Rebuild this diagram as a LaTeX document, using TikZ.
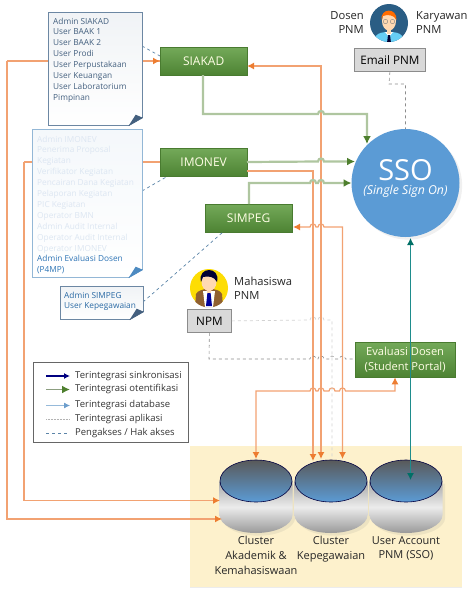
\documentclass[tikz,border=0pt]{standalone}
\usepackage{fontspec}
\setmainfont{Open Sans}
\usetikzlibrary{positioning, arrows.meta, shadows}

\definecolor{orangeline}{HTML}{F2A272}
\definecolor{orangetip}{HTML}{ED7D31}
\definecolor{greenline}{HTML}{AFC6A0}
\definecolor{greentip}{HTML}{4E7F2E}
\definecolor{greenbox}{HTML}{5B9A3C}
\definecolor{notedash}{HTML}{5B84A8}
\definecolor{greydash}{HTML}{8C8C8C}
\definecolor{tealline}{HTML}{1E8C8C}
\definecolor{tealtip}{HTML}{006F66}
\definecolor{ssoblue}{HTML}{5B9BD5}
\definecolor{panelfill}{HTML}{FDF1CC}
\definecolor{notetxt}{HTML}{44607F}
\definecolor{noteedge}{HTML}{6C87A3}
\definecolor{noteedgeb}{HTML}{93B7D6}
\definecolor{paletxt}{HTML}{DCE6F2}
\definecolor{bluetxt}{HTML}{2E75B6}
\definecolor{dosenblue}{HTML}{2A5D84}

\tikzset{
  appbox/.style={draw=greenbox!80!black, line width=0.3pt, top color=greenbox!85!white, bottom color=greenbox!85!black, text=white!90!yellow, font=\fontsize{12}{14}\selectfont, minimum height=28, inner sep=0pt, drop shadow={opacity=0.15, shadow xshift=0.6pt, shadow yshift=-0.8pt}},
  greybox/.style={draw=gray!90, line width=0.8pt, fill=gray!30, font=\fontsize{11.7}{14}\selectfont, inner sep=0pt},
  notebox/.style={draw=#1, line width=0.7pt, anchor=north west, inner sep=0pt, top color=#1!10, bottom color=white},
  notetext/.style={anchor=north west, inner sep=0pt, align=left, font=\fontsize{8.3}{10.9}\selectfont, text=notetxt},
  label/.style={font=\fontsize{11.2}{14.5}\selectfont, inner sep=0pt, text=black!85},
  legendtext/.style={font=\fontsize{9.5}{11}\selectfont, anchor=west, inner sep=0pt, text=black!80},
  orangearrow/.style={draw=orangeline, line width=1.4pt},
  orangethin/.style={draw=orangeline, line width=1.2pt},
  greenarrow/.style={draw=greenline, line width=2.2pt, -{Latex[length=8pt,width=8pt,color=greentip]}},
  notelink/.style={draw=notedash, line width=0.7pt, dashed},
  greydashed/.style={draw=greydash, line width=0.6pt, dashed},
  paledashed/.style={draw=gray!35, line width=0.7pt, dashed},
  cylside/.style={top color=gray!70, bottom color=gray!80, middle color=white!85!gray}
}
\newcommand{\hop}[2]{-- ({#1-3},#2) .. controls ({#1-3},{#2-4}) and ({#1+3},{#2-4}) .. ({#1+3},#2)}
\newcommand{\notefold}[2]{
  \fill[white] ([xshift=-14.5pt,yshift=-0.5pt]#1.south east) -- ([xshift=0.5pt,yshift=8pt]#1.south east) -- ([xshift=0.8pt,yshift=-0.8pt]#1.south east) -- cycle;
  \fill[#2] ([xshift=-14pt]#1.south east) -- ([yshift=8pt]#1.south east) -- ([xshift=-7pt,yshift=11pt]#1.south east) -- cycle;
  \draw[#2, line width=0.7pt] ([xshift=-14pt]#1.south east) -- ([yshift=8pt]#1.south east);
}
\newcommand{\cylinder}[2]{
  \path[cylside, drop shadow={opacity=0.12}] ({#1-36.5},481) -- ({#1-36.5},515) arc[x radius=36.5, y radius=18, start angle=180, end angle=0] -- ({#1+36.5},481) -- cycle;
  \draw[top color=black!65, bottom color=ssoblue, draw=black!75!blue, line width=0.6pt] (#1,481) ellipse[x radius=36, y radius=21];
  \coordinate (#2) at (#1,460);
}

\begin{document}
\begin{tikzpicture}[x=1pt, y=-1pt]
  \useasboundingbox (0,0) rectangle (474,598);

  % panel with the database clusters
  \node[fill=panelfill, minimum width=272, minimum height=141, inner sep=0pt, anchor=north west, drop shadow={opacity=0.15, shadow xshift=0.6pt, shadow yshift=-0.8pt}] (panel) at (189.5,446) {};
  \cylinder{256}{clusterakad}
  \cylinder{331}{clusterpeg}
  \cylinder{406}{clustersso}
  \node[label, align=center, font=\fontsize{11}{14.8}\selectfont, anchor=north] (akadlabel) at (256,536) {Cluster\\Akademik \&\\Kemahasiswaan};
  \node[label, align=center, font=\fontsize{11}{14.8}\selectfont, anchor=north] (peglabel) at (331,536) {Cluster\\Kepegawaian};
  \node[label, align=center, font=\fontsize{11}{14.8}\selectfont, anchor=north] (ssolabel) at (406,536) {User Account\\PNM (SSO)};

  % applications
  \node[appbox, minimum width=87, anchor=north west] (siakad) at (160,47) {SIAKAD};
  \node[appbox, minimum width=87, anchor=north west] (imonev) at (160,148) {IMONEV};
  \node[appbox, minimum width=87, anchor=north west] (simpeg) at (205,204) {SIMPEG};
  \node[appbox, minimum width=100, minimum height=35, anchor=north west, align=center, font=\fontsize{11.1}{14.7}\selectfont] (evaluasi) at (355,342) {Evaluasi Dosen\\(Student Portal)};
  \node[circle, fill=ssoblue, minimum size=108, inner sep=0pt, drop shadow={opacity=0.12}] (sso) at (405.5,183) {};
  \node[text=white, font=\fontsize{29}{30}\selectfont, inner sep=0pt] (ssotext) at (405.5,170) {SSO};
  \node[text=white, font=\fontsize{12.3}{13}\itshape\selectfont, inner sep=0pt] (ssosub) at (405.5,191) {(Single Sign On)};
  \node[greybox, minimum width=71, minimum height=23, anchor=north west] (email) at (354,48) {Email PNM};
  \node[greybox, minimum width=44, minimum height=23, anchor=north west] (npm) at (187,309) {NPM};

  % database and application links
  \coordinate (siakadleft) at (160,61);
  \coordinate (imonevleft) at (160,162);
  \draw[orangearrow, -{Latex[length=7pt,width=7pt,color=orangetip]}] (7,61) -- (7,519) -- (222,519);
  \draw[orangearrow] (7,61) -- (siakadleft);
  \draw[orangearrow, -{Latex[length=7pt,width=7pt,color=orangetip]}] (24,162) -- (24,500.5) -- (220,500.5);
  \draw[orangearrow] (24,162) -- (imonevleft);

  \draw[orangethin, {Latex[length=7pt,width=7pt,color=orangetip]}-{Latex[length=7pt,width=7pt,color=orangetip]}] (247,66) -- (321,66) -- (321,459);
  \draw[orangethin, -{Latex[length=7pt,width=7pt,color=orangetip]}] (247,171) -- (313,171) -- (313,461);
  \draw[orangethin, {Latex[length=7pt,width=7pt,color=orangetip]}-{Latex[length=7pt,width=7pt,color=orangetip]}] (293,227) \hop{313}{227} \hop{321}{227} -- (342.5,227) -- (342.5,459);
  \draw[orangethin, {Latex[length=7pt,width=7pt,color=orangetip]}-{Latex[length=7pt,width=7pt,color=orangetip]}] (256,459) -- (256,391) \hop{313}{391} \hop{321}{391} \hop{332}{391} \hop{342.5}{391} -- (395,391) -- (evaluasi.south -| 395,0);

  % authentication links
  \draw[greenarrow] (203,75) -- (203,114) \hop{321}{114} -- (367,114) -- (367,144);
  \draw[greenarrow] (247,162) \hop{321}{161.5} -- (355,161.5);
  \draw[greenarrow] (249,204) -- (249,183) \hop{313}{183} \hop{321}{183} -- (351.5,183);
  \draw[draw=tealline, line width=1pt, {Latex[length=7pt,width=7pt,color=tealtip]}-{Latex[length=7pt,width=7pt,color=tealtip]}] (410.5,238) -- (410.5,480);

  % access links
  \draw[notelink] (142,46) -- (siakad.west |- 0,56);
  \draw[notelink] (142,191) -- (168,176);
  \draw[notelink] (143,302) -- (223,232);
  \draw[greydashed] (email.south) -- (389,84) -- (405.5,84) -- (sso.north);
  \draw[greydashed] (npm.south) -- (209,359) \hop{313}{359} \hop{321}{359} \hop{332}{359} \hop{342.5}{359} -- (evaluasi.west |- 0,359);
  \draw[paledashed] (npm.east) \hop{313}{320} \hop{321}{320} -- (332,320) -- (332,458);

  % user lists
  \node[notebox=noteedge, minimum width=94, minimum height=113] (notesiakad) at (48,12) {};
  \node[notetext] (listsiakad) at (53,17.5) {Admin SIAKAD\\User BAAK 1\\User BAAK 2\\User Prodi\\User Perpustakaan\\User Keuangan\\User Laboratorium\\Pimpinan};
  \notefold{notesiakad}{notetxt}
  \node[notebox=noteedgeb, minimum width=110, minimum height=148] (noteimonev) at (32,129) {};
  \node[notetext, text=paletxt] (listimonev) at (37,135.5) {Admin IMONEV\\Penerima Proposal\\Kegiatan\\Verifikator Kegiatan\\Pencairan Dana Kegiatan\\Pelaporan Kegiatan\\PIC Kegiatan\\Operator BMN\\Admin Audit Internal\\Operator Audit Internal\\Operator IMONEV\\\textcolor{bluetxt}{Admin Evaluasi Dosen}\\\textcolor{bluetxt}{(P4MP)}};
  \notefold{noteimonev}{bluetxt!85}
  \node[notebox=noteedge, minimum width=83, minimum height=33] (notesimpeg) at (60,286) {};
  \node[notetext, text=bluetxt!90!black] (listsimpeg) at (64,291.5) {Admin SIMPEG\\User Kepegawaian};
  \notefold{notesimpeg}{notetxt}
  \draw[orangearrow, -{Latex[length=7pt,width=7pt,color=orangetip]}] (notesiakad.east |- siakadleft) -- (siakadleft);
  \draw[orangearrow] (noteimonev.east |- imonevleft) -- (imonevleft);

  % people
  \node[circle, fill=dosenblue, minimum size=38, inner sep=0pt] (dosenicon) at (389,23) {};
  \begin{scope}
    \clip (389,23) circle[radius=19];
    \fill[cyan!60!white] (373,44) .. controls (374,33) and (381,32) .. (389,32) .. controls (397,32) and (404,33) .. (405,44) -- cycle;
    \fill[white] (385,32) -- (393,32) -- (389,37) -- cycle;
    \fill[black!80!blue] (388,35) -- (390,35) -- (391,43) -- (387,43) -- cycle;
    \fill[orange!30!white] (387,27) rectangle (391,34);
    \fill[orange!30!white] (389,21) ellipse[x radius=7, y radius=9.5];
    \fill[orange!85!red] (381.5,20) .. controls (380,8) and (397,7) .. (396.5,20) .. controls (394,15) and (388,14) .. (383,16) -- cycle;
    \draw[gray, line width=0.4pt] (385.5,21.5) circle[radius=2.2] (392.5,21.5) circle[radius=2.2];
  \end{scope}
  \node[label, align=right, anchor=east] (dosenlabel) at (364,22.5) {Dosen\\PNM};
  \node[label, align=left, anchor=west] (karyawanlabel) at (416,22.5) {Karyawan\\PNM};

  \node[circle, fill=yellow!80!orange, minimum size=38, inner sep=0pt] (mhsicon) at (209,288) {};
  \begin{scope}
    \clip (209,288) circle[radius=19.5];
    \fill[brown!75!black] (195,307) -- (196,294) .. controls (198,290) and (203,290) .. (205,289) -- (213,289) .. controls (216,290) and (220,290) .. (222,294) -- (223,307) -- cycle;
    \fill[white] (203,291) -- (215,291) -- (213,307) -- (205,307) -- cycle;
    \fill[blue!60!black] (207.5,292) -- (210.5,292) -- (212,306) -- (206,306) -- cycle;
    \fill[orange!30!white] (207,284) rectangle (211,293);
    \fill[orange!30!white] (209,282) ellipse[x radius=7.5, y radius=9];
    \fill[black!80!blue] (201,282) .. controls (197,266) and (221,266) .. (217,282) .. controls (214,276) and (208,276) .. (203,277) -- cycle;
  \end{scope}
  \node[label, align=left, anchor=west] (mhslabel) at (234,288) {Mahasiswa\\PNM};

  % legend
  \node[draw=gray!80!black, line width=0.7pt, minimum width=155, minimum height=79.5, anchor=north west, inner sep=0pt] (legend) at (32.5,362) {};
  \coordinate (legenda) at (46,376);
  \coordinate (legendb) at (46,389.5);
  \coordinate (legendc) at (46,405.5);
  \coordinate (legendd) at (46,419);
  \coordinate (legende) at (46,433.5);
  \draw[draw=blue!50!black, line width=1.2pt, -{Latex[length=6pt,width=6pt]}] (legenda) -- ++(24,0);
  \draw[draw=greenline!80!black, line width=1.8pt, -{Latex[length=8pt,width=8pt,color=greentip]}] (legendb) -- ++(24,0);
  \draw[draw=bluetxt!50, line width=0.8pt, -{Latex[length=6pt,width=6pt,color=bluetxt!70]}] (legendc) -- ++(24,0);
  \draw[draw=gray!60, line width=0.5pt, densely dotted] (legendd) -- ++(23,0);
  \draw[notelink] (legende) -- ++(23,0);
  \node[legendtext, right=29pt of legenda] (sinkron) {Terintegrasi sinkronisasi};
  \node[legendtext, right=29pt of legendb] (otentik) {Terintegrasi otentifikasi};
  \node[legendtext, right=29pt of legendc] (dbase) {Terintegrasi database};
  \node[legendtext, right=29pt of legendd] (aplikasi) {Terintegrasi aplikasi};
  \node[legendtext, right=29pt of legende] (akses) {Pengakses / Hak akses};
\end{tikzpicture}
\end{document}
